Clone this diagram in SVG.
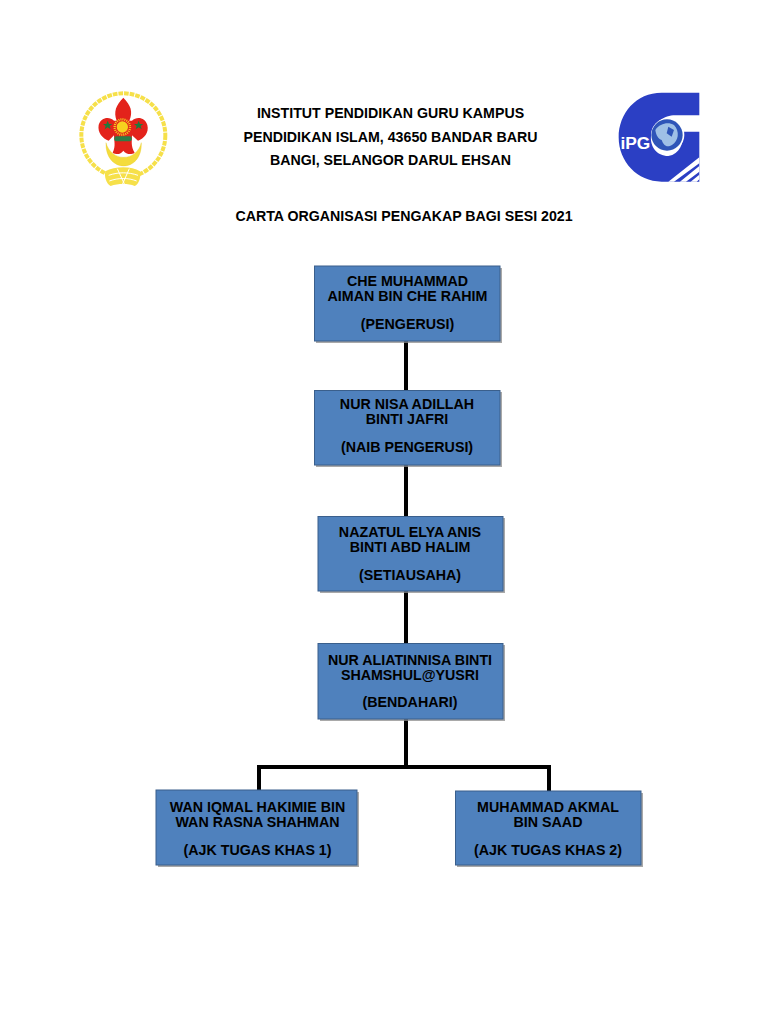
<svg xmlns="http://www.w3.org/2000/svg" width="768" height="1024" viewBox="0 0 768 1024">
<style>
text{font-family:"Liberation Sans",Arial,sans-serif;font-weight:bold;fill:#000;text-anchor:middle;}
.h{font-size:14.2px;}
.t{font-size:14.25px;}
.box{fill:#4f81bd;stroke:#3a5f8c;stroke-width:1;}
.sh{fill:#8c8c8c;opacity:.75;}
.c{fill:none;stroke:#000;stroke-width:4;stroke-linejoin:miter;}
.y{fill:#f6e04a;}
</style>
<rect width="768" height="1024" fill="#fff"/>
<g id="logo-pengakap" transform="translate(60 80) scale(.3333)">
<circle cx="190" cy="166" r="126" fill="none" stroke="#f6e04a" stroke-width="12" stroke-dasharray="14 3"/>
<path class="y" d="M136 274 C165 258 215 258 240 274 C244 292 236 314 224 318 C205 310 175 310 152 318 C140 312 132 292 136 274Z"/>
<path d="M146 286 C175 276 205 276 234 286 M148 303 C175 293 205 293 230 303 M172 266 L195 316 M208 266 L186 316" fill="none" stroke="#fff" stroke-width="3"/>
<path d="M138 188 C136 235 165 258 191 258 C218 258 246 235 244 188 C238 215 215 232 191 232 C167 232 145 215 138 188Z" fill="#f4dc3c" stroke="#e6c92a" stroke-width="1"/>
<path d="M190 53 C168 75 160 95 170 122 L162 122 C148 108 122 112 116 135 C112 158 128 176 146 182 L162 166 C162 182 168 200 158 218 C172 226 182 222 190 212 C198 222 212 226 224 218 C212 200 216 182 216 166 L234 182 C252 176 268 158 262 135 C256 112 230 108 216 122 L208 122 C220 95 212 75 190 53Z" fill="#e3231b"/>
<rect x="163" y="169" width="52" height="15" rx="6" fill="#2e7d46"/>
<circle cx="187" cy="141" r="17" fill="#f6d21f"/>
<circle cx="187" cy="141" r="23" fill="none" stroke="#f6d21f" stroke-width="7" stroke-dasharray="3 3"/>
<path d="M143 122 L147 132 L157 132 L149 138 L152 148 L143 142 L134 148 L137 138 L129 132 L139 132Z" fill="#1f7a3d"/>
<path d="M236 122 L240 132 L250 132 L242 138 L245 148 L236 142 L227 148 L230 138 L222 132 L232 132Z" fill="#1f7a3d"/>
</g>
<g id="logo-ipg" transform="translate(600 80) scale(.3333)">
<path d="M298 38 H185 C108 38 56 100 56 172 C56 245 112 305 185 305 H298 V155 H252 C250 190 240 222 205 228 C170 228 150 200 153 168 C156 128 195 106 225 106 H298Z" fill="#2b3fc4"/>
<circle cx="203" cy="165" r="50" fill="#fff"/>
<circle cx="201" cy="165" r="47" fill="#2f55b8"/>
<path d="M166 150 C180 130 205 125 222 135 C240 155 236 182 216 195 C200 205 190 195 185 180 C175 178 168 165 166 150Z" fill="#9fc0e6"/>
<path d="M205 140 L222 150 L215 170 L200 160Z" fill="#2f55b8"/>
<path d="M298 232 L205 305 H222 L298 250Z M298 258 L240 305 H258 L298 275Z M298 284 L272 305 H290 L298 298Z" fill="#fff"/>
<text x="106" y="208" font-size="52" style="fill:#fff">iPG</text>
</g>
<g id="heading">
<text class="h" x="390.500" y="118">INSTITUT PENDIDIKAN GURU KAMPUS</text>
<text class="h" x="390.500" y="142">PENDIDIKAN ISLAM, 43650 BANDAR BARU</text>
<text class="h" x="390.500" y="165">BANGI, SELANGOR DARUL EHSAN</text>
<text class="h" x="404" y="221">CARTA ORGANISASI PENGAKAP BAGI SESI 2021</text>
</g>
<g id="connectors">
<path class="c" d="M406 341V391"/>
<path class="c" d="M406 465V517"/>
<path class="c" d="M406 591V644"/>
<path class="c" d="M406 719V767"/>
<path class="c" d="M259 790V767H549V791"/>
</g>
<g id="node-1">
<rect class="sh" x="316" y="268" width="186" height="75"/>
<rect class="box" x="314.500" y="266" width="185.500" height="75"/>
<text class="t" x="407.500" y="286">CHE MUHAMMAD</text>
<text class="t" x="407.500" y="301">AIMAN BIN CHE RAHIM</text>
<text class="t" x="407.500" y="329">(PENGERUSI)</text>
</g>
<g id="node-2">
<rect class="sh" x="316" y="392" width="186" height="75"/>
<rect class="box" x="314.500" y="390.500" width="185.500" height="74.500"/>
<text class="t" x="407" y="409">NUR NISA ADILLAH</text>
<text class="t" x="407" y="424">BINTI JAFRI</text>
<text class="t" x="407" y="452">(NAIB PENGERUSI)</text>
</g>
<g id="node-3">
<rect class="sh" x="320" y="518" width="185" height="75"/>
<rect class="box" x="318" y="516.500" width="185" height="74.500"/>
<text class="t" x="410" y="537">NAZATUL ELYA ANIS</text>
<text class="t" x="410" y="552">BINTI ABD HALIM</text>
<text class="t" x="410" y="580">(SETIAUSAHA)</text>
</g>
<g id="node-4">
<rect class="sh" x="320" y="645" width="185" height="76"/>
<rect class="box" x="318" y="643.500" width="185" height="75.500"/>
<text class="t" x="410" y="665">NUR ALIATINNISA BINTI</text>
<text class="t" x="410" y="680">SHAMSHUL@YUSRI</text>
<text class="t" x="410" y="707">(BENDAHARI)</text>
</g>
<g id="node-5">
<rect class="sh" x="158" y="792" width="201" height="75"/>
<rect class="box" x="156" y="790" width="201" height="75"/>
<text class="t" x="257.500" y="812">WAN IQMAL HAKIMIE BIN</text>
<text class="t" x="257.500" y="827">WAN RASNA SHAHMAN</text>
<text class="t" x="257.500" y="855">(AJK TUGAS KHAS 1)</text>
</g>
<g id="node-6">
<rect class="sh" x="457" y="793" width="186" height="74"/>
<rect class="box" x="455.500" y="791" width="185.500" height="74"/>
<text class="t" x="548" y="812">MUHAMMAD AKMAL</text>
<text class="t" x="548" y="827">BIN SAAD</text>
<text class="t" x="548" y="855">(AJK TUGAS KHAS 2)</text>
</g>
</svg>
